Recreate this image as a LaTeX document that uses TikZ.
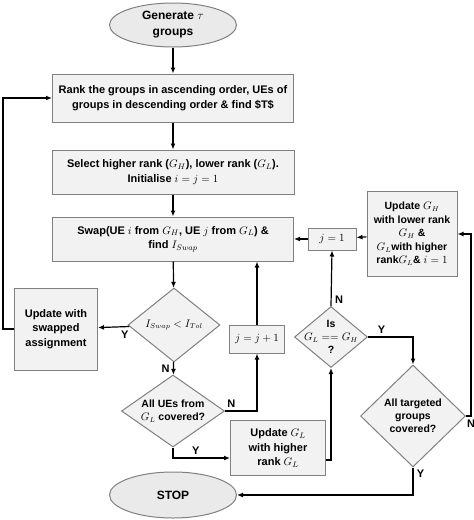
\documentclass[tikz,border=0pt]{standalone}
\usepackage{fontspec}
\setmainfont{Liberation Sans}
\usetikzlibrary{arrows.meta, shapes.geometric, positioning}
\definecolor{boxfill}{RGB}{242,242,242}
\definecolor{boxline}{RGB}{128,128,128}
\definecolor{termfill}{RGB}{234,234,234}

\begin{document}
\begin{tikzpicture}[x=1pt, y=-1pt,
  proc/.style={draw=boxline, fill=boxfill, line width=1pt, font=\bfseries\fontsize{11}{14.5}\selectfont, align=center, inner sep=1pt},
  term/.style={ellipse, draw=boxline, fill=termfill, line width=1pt, font=\bfseries\fontsize{12}{16}\selectfont, align=center, inner sep=0pt},
  dec/.style={diamond, draw=boxline, fill=boxfill, line width=1pt, font=\bfseries\fontsize{10.5}{13}\selectfont, align=center, inner sep=-14pt},
  arr/.style={-{Latex[length=6pt, width=5pt]}, line width=1.2pt},
  lbl/.style={font=\bfseries\fontsize{11}{13}\selectfont},
]
\useasboundingbox (0,0) rectangle (474,520);

% === Main column ===
\node[term, minimum width=127, minimum height=44] (start) at (173,25) {Generate $\tau$\\groups};
\node[proc, minimum width=241, minimum height=48] (rank) at (173,98) {Rank the groups in ascending order, UEs of\\groups in descending order \& find \$T\$};
\node[proc, minimum width=242, minimum height=44] (select) at (173,172) {Select higher rank ($G_H$), lower rank ($G_L$).\\Initialise $i = j = 1$};
\node[proc, minimum width=241, minimum height=44] (swap) at (173,239) {Swap(UE $i$ from $G_H$, UE $j$ from $G_L$) \&\\find $I_{Swap}$};
\node[dec, minimum width=92, minimum height=74] (tol) at (174,325) {$I_{Swap} < I_{Tol}$};
\node[proc, minimum width=83, minimum height=82] (upd) at (56,329) {Update with\\swapped\\assignment};
\node[dec, minimum width=103, minimum height=72] (allue) at (173,411) {All UEs from\\$G_L$ covered?};
\node[term, minimum width=127, minimum height=46] (stop) at (173,495) {STOP};

% === Right part ===
\node[proc, minimum width=55, minimum height=28] (jinc) at (257,339) {$j = j + 1$};
\node[proc, minimum width=95, minimum height=55] (updgl) at (278,448) {Update $G_L$\\with higher\\rank $G_L$};
\node[dec, minimum width=73, minimum height=61] (same) at (331,337) {Is\\$G_L == G_H$\\?};
\node[proc, minimum width=48, minimum height=22] (jone) at (332,239) {$j = 1$};
\node[proc, minimum width=90, minimum height=85, font=\bfseries\fontsize{10.5}{13.5}\selectfont] (updgh) at (412,234) {Update $G_H$\\with lower rank\\$G_H$ \&\\$G_L$with higher\\rank$G_L$\& $i = 1$};
\node[dec, minimum width=105, minimum height=102] (alltg) at (413,416) {All targeted\\groups\\covered?};

% === Connectors ===
\draw[arr] (start) -- (rank);
\draw[arr] (rank) -- (select);
\draw[arr] (select) -- (swap);
\draw[arr] (swap) -- (tol);
\draw[arr] (tol) -- (upd) node[lbl, pos=0.15, below] {Y};
\draw[arr] (upd.west) -- ++(-11,0) |- (rank.west);
\draw[arr] (tol) -- (allue) node[lbl, midway, left] {N};
\draw[arr] (allue.east) -| (jinc.south) node[lbl, pos=0.1, above] {N};
\draw[arr] (jinc.north) -- (jinc.north |- swap.south);
\draw[arr] (allue.south) |- ([yshift=-10pt]updgl.west) node[lbl, pos=0.7, above] {Y};
\draw[arr] ([yshift=-12pt]updgl.east) -| (same.south);
\draw[arr] (same.north) -- (jone.south) node[lbl, pos=0.12, right] {N};
\draw[arr] (jone) -- (swap);
\draw[arr] (updgh) -- (jone);
\draw[arr] (same.east) -| (alltg.north) node[lbl, pos=0.15, above] {Y};
\draw[arr] (alltg.east) -- ++(5,0) node[lbl, below] {N} |- (updgh.east);
\draw[arr] (alltg.south) |- (stop.east) node[lbl, pos=0.12, right] {Y};
\end{tikzpicture}
\end{document}
